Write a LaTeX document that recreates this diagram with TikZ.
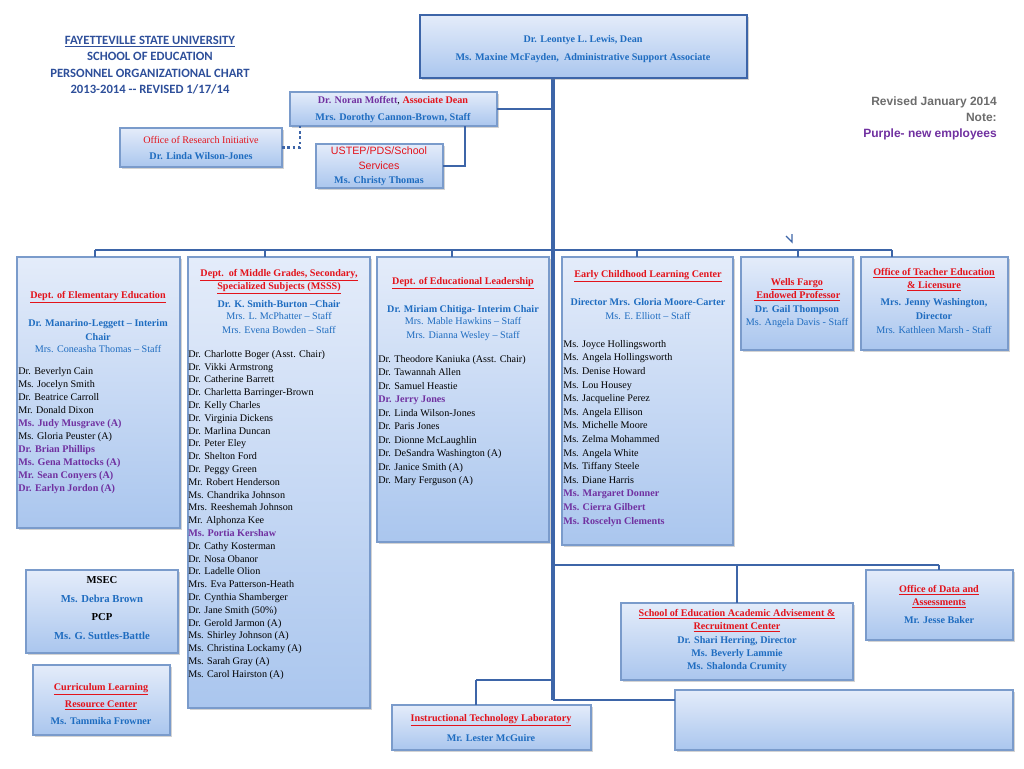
\documentclass[tikz,border=0pt]{standalone}
\usepackage{fontspec}
\setmainfont{Liberation Serif}
\newfontfamily\calib{Carlito}
\newfontfamily\arial{Liberation Sans}
\usetikzlibrary{shadows}
\definecolor{rd}{HTML}{E3131B}
\definecolor{bl}{HTML}{1E6CC0}
\definecolor{pu}{HTML}{7030A0}
\definecolor{ln}{HTML}{3D65A8}
\definecolor{bd}{HTML}{7A9BCB}
\definecolor{ttl}{HTML}{2E4F9A}
\definecolor{boxtop}{HTML}{E4ECFA}
\definecolor{boxbot}{HTML}{AAC6EE}
\tikzset{
 box/.style={draw=bd,line width=1pt,top color=boxtop,bottom color=boxbot,inner sep=0pt,outer sep=0pt,drop shadow={opacity=0.35,shadow xshift=1.5pt,shadow yshift=-1.5pt}},
 conn/.style={draw=ln,line width=2.2pt},
 trunk/.style={draw=ln,line width=3.5pt},
 tx/.style={inner sep=0pt,font=\fontsize{7.6}{9.8}\selectfont,align=center},
 lst/.style={inner sep=0pt,anchor=north west,align=left,font=\fontsize{7.6}{#1}\selectfont},
}
\newcommand\bx[6][]{\node[box,#1,minimum width={(#4-#2)*0.75pt},minimum height={(#5-#3)*0.75pt}] (#6) at ({(#2+#4)/2},{(#3+#5)/2}) {};}
\newcommand\Rdu[1]{\textcolor{rd}{\textbf{\underline{#1}}}}
\newcommand\Bb[1]{\textcolor{bl}{\textbf{#1}}}
\newcommand\Bl[1]{\textcolor{bl}{#1}}
\newcommand\Pu[1]{\textcolor{pu}{\textbf{#1}}}
\begin{document}
\begin{tikzpicture}[x=0.75pt,y=-0.75pt]
\useasboundingbox (0,0) rectangle (1024,768);
% title
\node[tx,font=\calib\bfseries\fontsize{9.5}{12.3}\selectfont,text=ttl] (title) at (150,65) {\underline{FAYETTEVILLE STATE UNIVERSITY}\\SCHOOL OF EDUCATION\\PERSONNEL ORGANIZATIONAL CHART\\2013-2014 -- REVISED 1/17/14};
\node[inner sep=0pt,anchor=north east,align=right,font=\arial\bfseries\fontsize{9}{12}\selectfont,text=gray!85!black] (rev) at (997,97) {Revised January 2014\\Note:\\\textcolor{pu}{Purple- new employees}};
% connectors (drawn first)
\coordinate (tA) at (553,78);
\coordinate (tB) at (553,700);
\draw[trunk] (tA) -- (tB);
\coordinate (b1) at (95,250); \coordinate (b2) at (892,250);
\draw[conn] (b1) -- (b2);
\coordinate (hl) at (553,565); \coordinate (hr) at (939,565);
\draw[conn] (hl) -- (hr);
\coordinate (ha) at (737,565);
\coordinate (ia) at (476,680); \coordinate (ib) at (553,680);
\draw[conn] (ib) -- (ia);
\coordinate (ea) at (553,700);
\coordinate (ux) at (465,0);
\coordinate (rx) at (300,0);
% boxes
\bx[line width=2pt,draw=ln]{420}{15}{747}{78}{dean}
\bx{290}{92}{497}{126}{assoc}
\bx{120}{128}{282}{167}{research}
\bx{316}{144}{443}{188}{ustep}
\bx{17}{257}{180}{528}{elem}
\bx{188}{257}{370}{708}{msss}
\bx{377}{257}{549}{542}{edl}
\bx{562}{257}{733}{545}{early}
\bx{741}{257}{853}{350}{wells}
\bx{861}{257}{1008}{350}{ted}
\bx{26}{570}{178}{653}{msec}
\bx{33}{665}{170}{735}{curr}
\bx{392}{705}{591}{750}{itl}
\bx{621}{603}{853}{680}{adv}
\bx{866}{570}{1013}{640}{data}
\bx{675}{690}{1013}{750}{empty}
% connectors to boxes
\draw[conn] (assoc.east) -- (assoc.east -| tA);
\draw[conn] (assoc.south -| ux) |- (ustep.east);
\draw[draw=ln,line width=2pt,dotted] (research.east) -| (assoc.south -| rx);
\foreach \n/\x in {elem/95,msss/265,edl/452,early/637,wells/798,ted/892}{
  \coordinate (dx) at (\x,250);
  \draw[conn] (dx) -- (\n.north -| dx);}
\draw[conn] (ha) -- (adv.north -| ha);
\draw[conn] (hr) -- (data.north -| hr);
\draw[conn] (ia) -- (itl.north -| ia);
\draw[conn] (ea) -- (empty.west |- ea);
\draw[draw=ln,line width=1pt] (786,236) -- (792,242) -- (792,234);
% texts
\node[tx] (t1) at (583,40) {\Bb{Dr. Leontye L. Lewis, Dean}};
\node[tx] (t2) at (583,58) {\Bb{Ms. Maxine McFayden,\ \ Administrative Support Associate}};
\node[tx] (t3) at (393,101) {\Pu{Dr. Noran Moffett}, \textcolor{rd}{\textbf{Associate Dean}}};
\node[tx] (t4) at (393,118) {\Bb{Mrs. Dorothy Cannon-Brown, Staff}};
\node[tx] (t5) at (201,140) {\textcolor{rd}{Office of Research Initiative}};
\node[tx] (t6) at (201,156) {\Bb{Dr. Linda Wilson-Jones}};
\node[tx,font=\arial\fontsize{8}{11.5}\selectfont] (t7) at (379,158) {\textcolor{rd}{USTEP/PDS/School}\\\textcolor{rd}{Services}};
\node[tx] (t8) at (379,181) {\Bb{Ms. Christy Thomas}};
% elementary
\node[tx] (e1) at (98,297) {\Rdu{Dept. of Elementary Education}};
\node[tx] (e2) at (98,330) {\Bb{Dr. Manarino-Leggett -- Interim}\\\Bb{Chair}};
\node[tx] (e3) at (98,349) {\Bl{Mrs. Coneasha Thomas -- Staff}};
\node[lst=9.8] (e4) at (18,367) {Dr. Beverlyn Cain\\Ms. Jocelyn Smith\\Dr. Beatrice Carroll\\Mr. Donald Dixon\\\Pu{Ms. Judy Musgrave (A)}\\Ms. Gloria Peuster (A)\\\Pu{Dr. Brian Phillips}\\\Pu{Ms. Gena Mattocks (A)}\\\Pu{Mr. Sean Conyers (A)}\\\Pu{Dr. Earlyn Jordon (A)}};
% msss
\node[tx] (m1) at (279,282) {\Rdu{Dept.\ \ of Middle Grades, Secondary,}\\\Rdu{Specialized Subjects (MSSS)}};
\node[tx] (m2) at (279,304) {\Bb{Dr. K. Smith-Burton --Chair}};
\node[tx] (m3) at (279,323) {\Bl{Mrs. L. McPhatter -- Staff}\\\Bl{Mrs. Evena Bowden -- Staff}};
\node[lst=9.6] (m4) at (188,350) {Dr. Charlotte Boger (Asst. Chair)\\Dr. Vikki Armstrong\\Dr. Catherine Barrett\\Dr. Charletta Barringer-Brown\\Dr. Kelly Charles\\Dr. Virginia Dickens\\Dr. Marlina Duncan\\Dr. Peter Eley\\Dr. Shelton Ford\\Dr. Peggy Green\\Mr. Robert Henderson\\Ms. Chandrika Johnson\\Mrs. Reeshemah Johnson\\Mr. Alphonza Kee\\\Pu{Ms. Portia Kershaw}\\Dr. Cathy Kosterman\\Dr. Nosa Obanor\\Dr. Ladelle Olion\\Mrs. Eva Patterson-Heath\\Dr. Cynthia Shamberger\\Dr. Jane Smith (50\%)\\Dr. Gerold Jarmon (A)\\Ms. Shirley Johnson (A)\\Ms. Christina Lockamy (A)\\Ms. Sarah Gray (A)\\Ms. Carol Hairston (A)};
% ed leadership
\node[tx] (l1) at (463,283) {\Rdu{Dept. of Educational Leadership}};
\node[tx] (l2) at (463,310) {\Bb{Dr. Miriam Chitiga- Interim Chair}};
\node[tx] (l3) at (463,329) {\Bl{Mrs. Mable Hawkins -- Staff}\\\Bl{Mrs. Dianna Wesley -- Staff}};
\node[lst=10.1] (l4) at (378,355) {Dr. Theodore Kaniuka (Asst. Chair)\\Dr. Tawannah Allen\\Dr. Samuel Heastie\\\Pu{Dr. Jerry Jones}\\Dr. Linda Wilson-Jones\\Dr. Paris Jones\\Dr. Dionne McLaughlin\\Dr. DeSandra Washington (A)\\Dr. Janice Smith (A)\\Dr. Mary Ferguson (A)};
% early childhood
\node[tx] (c1) at (648,276) {\Rdu{Early Childhood Learning Center}};
\node[tx] (c2) at (648,302) {\Bb{Director Mrs. Gloria Moore-Carter}};
\node[tx] (c3) at (648,316) {\Bl{Ms. E. Elliott -- Staff}};
\node[lst=10.2] (c4) at (563,340) {Ms. Joyce Hollingsworth\\Ms. Angela Hollingsworth\\Ms. Denise Howard\\Ms. Lou Housey\\Ms. Jacqueline Perez\\Ms. Angela Ellison\\Ms. Michelle Moore\\Ms. Zelma Mohammed\\Ms. Angela White\\Ms. Tiffany Steele\\Ms. Diane Harris\\\Pu{Ms. Margaret Donner}\\\Pu{Ms. Cierra Gilbert}\\\Pu{Ms. Roscelyn Clements}};
% wells
\node[tx] (w1) at (797,290) {\Rdu{Wells Fargo}\\\Rdu{\ Endowed Professor}};
\node[tx] (w2) at (797,310) {\Bb{Dr. Gail Thompson}};
\node[tx] (w3) at (797,323) {\Bl{Ms. Angela Davis - Staff}};
% teacher ed
\node[tx] (d1) at (934,280) {\Rdu{Office of Teacher Education}\\\Rdu{\& Licensure}};
\node[tx] (d2) at (934,309) {\Bb{Mrs. Jenny Washington,}\\\Bb{Director}};
\node[tx] (d3) at (934,330) {\Bl{Mrs. Kathleen Marsh - Staff}};
% msec
\node[tx,font=\fontsize{8}{12}\selectfont] (s1) at (102,608) {\textbf{MSEC}\\[2pt]\Bb{Ms. Debra Brown}\\[2pt]\textbf{PCP}\\[2pt]\Bb{Ms. G. Suttles-Battle}};
\node[tx,font=\fontsize{7.6}{12.8}\selectfont] (r1) at (101,704) {\Rdu{Curriculum Learning}\\\Rdu{Resource Center}\\\Bb{Ms. Tammika Frowner}};
\node[tx] (i1) at (491,720) {\Rdu{Instructional Technology Laboratory}};
\node[tx] (i2) at (491,738) {\Bb{Mr. Lester McGuire}};
\node[tx] (a1) at (737,621) {\Rdu{School of Education Academic Advisement \&}\\\Rdu{Recruitment Center}};
\node[tx] (a2) at (737,654) {\Bb{Dr. Shari Herring, Director}\\\Bb{Ms. Beverly Lammie}\\\Bb{Ms. Shalonda Crumity}};
\node[tx] (x1) at (939,597) {\Rdu{Office of Data and}\\\Rdu{Assessments}};
\node[tx] (x2) at (939,620) {\Bb{Mr. Jesse Baker}};
\end{tikzpicture}
\end{document}
